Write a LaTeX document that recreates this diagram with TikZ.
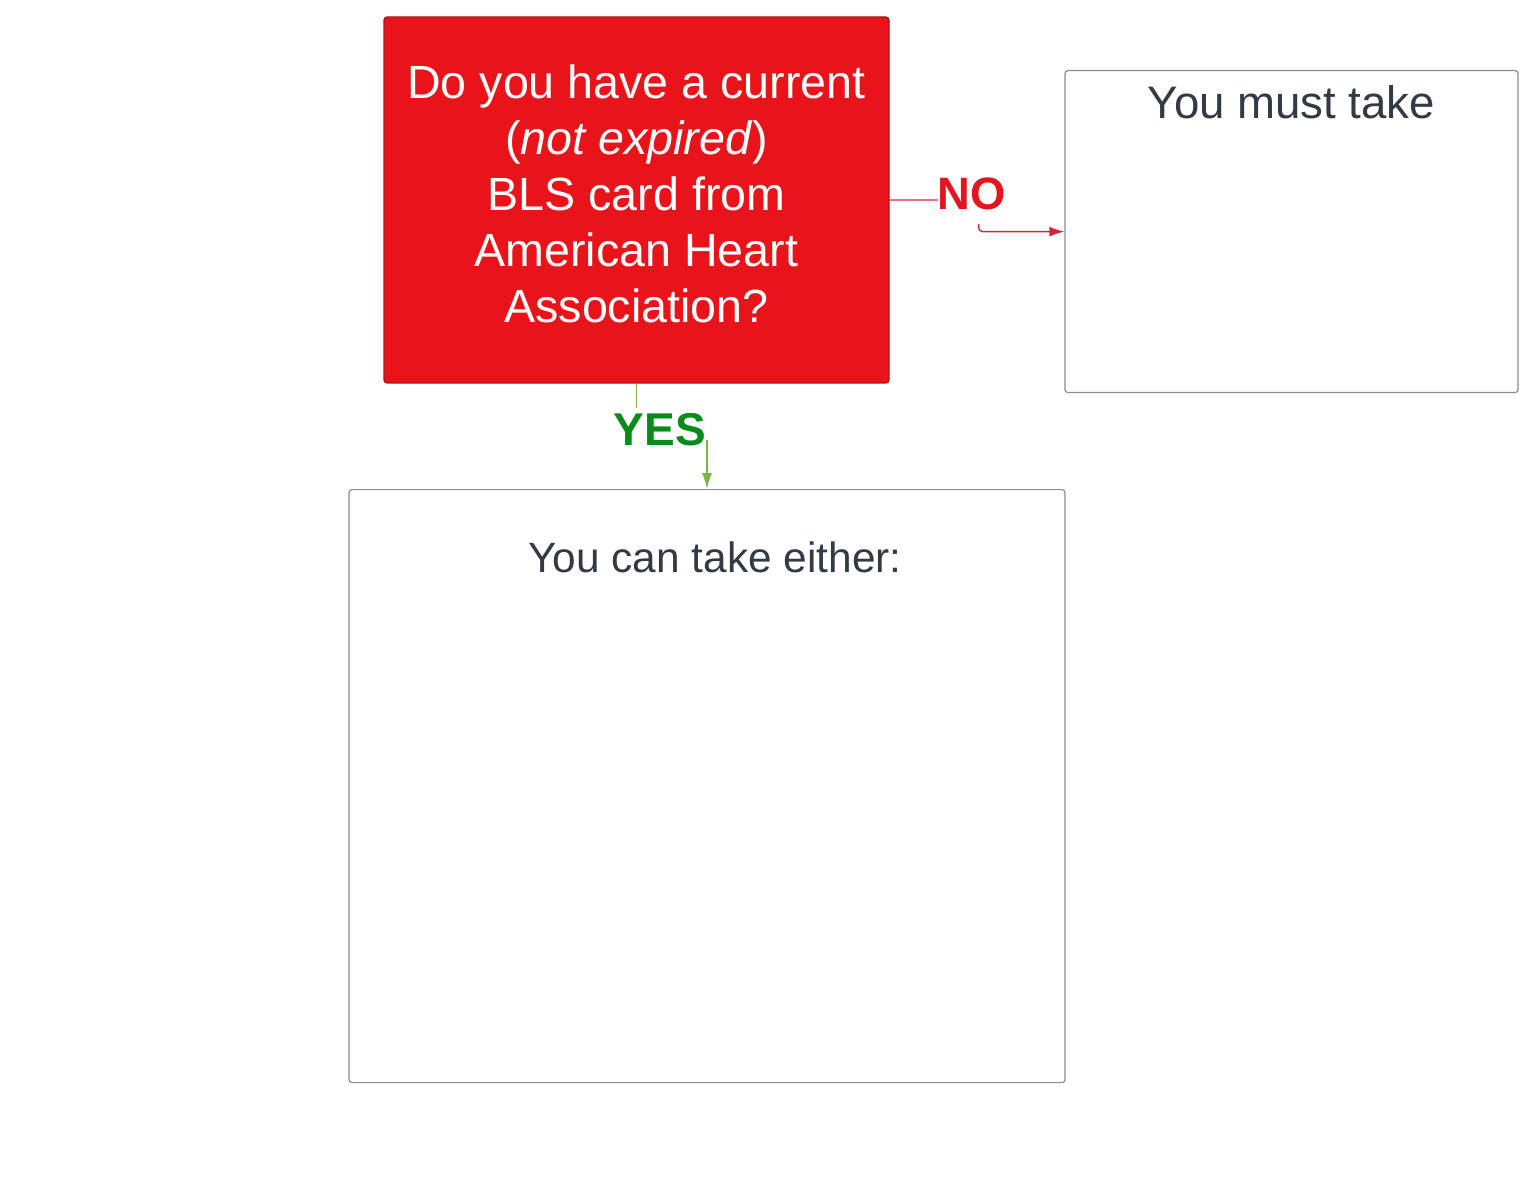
\documentclass[tikz,border=0pt]{standalone}
\usepackage{fontspec}
\setmainfont{Liberation Sans}
\usepackage{tikz}
\usetikzlibrary{arrows.meta, calc}

\definecolor{qred}{HTML}{E8141A}
\definecolor{qredline}{HTML}{A8161C}
\definecolor{nored}{HTML}{D3283A}
\definecolor{notext}{HTML}{E2161E}
\definecolor{yesgreen}{HTML}{0A8A1A}
\definecolor{yesline}{HTML}{7AB648}
\definecolor{boxgray}{HTML}{8C8C8C}
\definecolor{txtgray}{HTML}{333A45}

\begin{document}
\begin{tikzpicture} [x=0.5pt, y=-0.5pt,
question/.style={draw=qredline, fill=qred, rounded corners=1.5pt, line width=0.6pt,
  minimum width=252.5pt, minimum height=183pt},
questiontext/.style={text=white, align=center, font=\fontsize{23.3}{28}\selectfont},
answer/.style={draw=boxgray, rounded corners=1.5pt, line width=0.6pt,
  text=txtgray, anchor=north, inner sep=0pt},
nolink/.style={draw=nored, line width=0.7pt, rounded corners=2pt,
  -{Latex[length=7.5pt, width=5pt]}},
yeslink/.style={draw=yesline, line width=0.7pt,
  -{Latex[length=8pt, width=5pt]}},
nolabel/.style={fill=white, text=notext, font=\bfseries\fontsize{22.7}{26}\selectfont,
  inner xsep=0pt, inner ysep=7pt},
yeslabel/.style={fill=white, text=yesgreen, font=\bfseries\fontsize{23}{26}\selectfont,
  inner xsep=0pt, inner ysep=2.75pt}]

\useasboundingbox (0,0) rectangle (1536,1187);

% question and the two answers
\node[question] (q) at (636.5,200) {};
\node[questiontext] (qtext) at (636.5,194)
  {Do you have a current\\(\textit{not expired})\\BLS card from\\American Heart\\Association?};
\node[answer, minimum width=226.5pt, minimum height=161pt] (must) at (1291.5,70) {};
\node[answer, minimum width=358pt, minimum height=296.5pt] (either) at (707,489) {};

\node[text=txtgray, font=\fontsize{22.8}{26}\selectfont] (musttxt) at (1291.5,102) {You must take};
\node[text=txtgray, font=\fontsize{21.2}{24}\selectfont] (eithertxt) at (715,557) {You can take either:};

% connectors
\draw[nolink] (q.east) -- ++(89,0) |- (must.west);
\draw[yeslink] (q.south) -- ++(0,57) -| (either.north);

\node[nolabel] (no) at (972,194) {NO};
\node[yeslabel] (yes) at (660,430) {YES};

\end{tikzpicture}
\end{document}
